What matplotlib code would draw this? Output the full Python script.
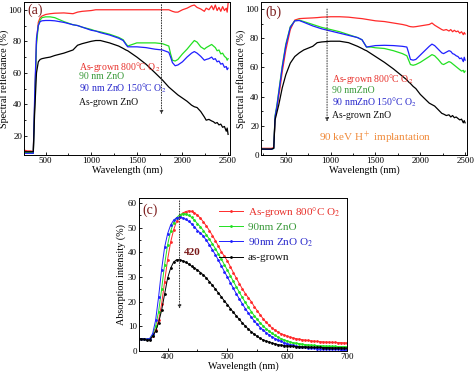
import matplotlib
matplotlib.use('Agg')
import matplotlib.pyplot as plt
from matplotlib.ticker import AutoMinorLocator, MultipleLocator

plt.rcParams['font.family'] = ['Liberation Serif', 'DejaVu Serif']
plt.rcParams['mathtext.fontset'] = 'stix'

# === data: panel (a) ===
wl_a = [265, 300, 340, 365, 380, 400, 420, 440, 460, 500, 550, 600, 700, 800, 850, 900,
        1000, 1050, 1100, 1200, 1300, 1350, 1380, 1400, 1450, 1500, 1600, 1700, 1780,
        1850, 1870, 1890, 1920, 1950, 2000, 2050, 2100, 2130, 2160, 2200, 2240, 2260,
        2290, 2320, 2340, 2360, 2380, 2400, 2420, 2440, 2460, 2480, 2490, 2500]
red_a = [11, 10.5, 10.5, 10, 40, 80, 92, 95, 96, 97, 97.5, 97.8, 98, 97.5, 98.5, 99,
         99.5, 100, 100, 100, 100, 100, 100, 100, 100, 100, 100, 100, 100,
         100, 99.5, 99, 98.5, 98.5, 100, 101, 102.5, 103, 101.5, 100.5, 99, 101,
         100, 102.5, 100, 103, 99.5, 101.5, 99, 102, 99.5, 101, 98.5, 104]
green_a = [9.5, 9.5, 9.5, 9, 40, 78, 90, 93.5, 95, 95.5, 95.5, 95, 92.5, 90.5, 90, 89,
           87.5, 86.5, 86, 84.5, 82.5, 81, 78.5, 77, 78, 79, 79, 79, 78.5,
           77, 72, 68, 67.5, 68.5, 72, 75, 78.5, 80.5, 79.5, 76.5, 75, 76,
           77, 78, 77, 76, 74, 74.5, 72, 72.5, 70.5, 69.5, 68, 69]
blue_a = [9, 9, 9, 9, 45, 82, 90, 92.5, 93, 93.2, 93.2, 93, 92, 90.5, 90, 89,
          87, 86.5, 85.5, 84, 82, 80.5, 78, 76.5, 76.5, 76.5, 76, 75, 74.5,
          73, 70, 66.5, 64.5, 65, 67, 70, 72.5, 73.5, 72.5, 70.5, 68, 68.5,
          69, 70, 68.5, 69, 67, 67.5, 65.5, 66, 63.5, 64, 62, 63]
black_a = [10, 10, 10, 10, 35, 60, 67, 68.5, 69, 69.5, 70, 71, 72.5, 74.5, 77.5, 78.5,
           80, 80.5, 80.5, 79, 77, 75.5, 74.5, 74, 72, 70, 65.5, 60, 55.5,
           51, 50, 49, 47.5, 46, 44, 42, 39.5, 38.5, 38, 35.5, 32, 30,
           30.5, 29.5, 29, 28, 28.5, 27, 27.5, 25.5, 26, 23, 25, 21]
labels_a = ['As-grown 800\u00b0C O$_2$', '90 nm ZnO', '90 nm ZnO 150\u00b0C O$_2$', 'As-grown ZnO']

# === data: panel (b) ===
wl_b = [225, 300, 340, 365, 380, 400, 420, 440, 460, 500, 550, 600, 650, 700, 800, 850,
        900, 1000, 1100, 1200, 1300, 1350, 1380, 1400, 1450, 1500, 1600, 1700, 1800,
        1850, 1870, 1890, 1920, 1950, 2000, 2050, 2100, 2130, 2160, 2200, 2240, 2260,
        2290, 2320, 2340, 2360, 2380, 2400, 2420, 2440, 2460, 2480, 2490, 2500]
red_b = [4.5, 4.5, 4.5, 5, 25, 32, 40, 48, 57, 72, 86, 92.5, 93.5, 93.7, 94, 94.2,
         94.5, 94.8, 94.8, 94.5, 93.8, 93.5, 93.2, 93, 92.5, 92, 91.5, 90.5, 89.5,
         88.8, 88.3, 88, 87.8, 88, 88.5, 89, 89.5, 90.5, 89, 87.5, 86, 85.5,
         86, 85, 86, 84.5, 85.5, 84.5, 85, 83.5, 84.5, 82.5, 84, 83]
green_b = [4, 3.8, 3.8, 4.5, 27, 34, 43, 52, 61, 76, 88, 92, 92.5, 91.5, 89.5, 88.5,
           87.5, 86, 84.5, 82.5, 80.5, 79, 76, 74, 74, 73.5, 73, 71.5, 69.5,
           68, 65, 62, 61.5, 62, 63.5, 65.5, 67.5, 68.8, 68, 65.5, 62.5, 62,
           63, 64, 63.5, 62.5, 61.5, 60.5, 59.5, 58.5, 57.5, 58, 56.5, 57.5]
blue_b = [4, 3.8, 3.8, 4.5, 26, 33, 42, 51, 60, 75, 87.5, 92, 92.2, 91, 88.5, 87.5,
          86.5, 85, 83.5, 82, 80.5, 79, 76, 74, 74.5, 75, 75.2, 75, 74.5,
          74, 70, 65.5, 65, 65.5, 68.5, 71.5, 74.5, 76, 75, 72.5, 70, 69.5,
          70.5, 71.5, 71, 69.5, 69, 68, 67.5, 66, 66.5, 64, 67, 65]
black_b = [4, 4, 4, 4.5, 24, 29, 34, 40, 46, 55, 63, 67.5, 70, 72, 74.5, 77,
           77.5, 78, 78, 77, 74.5, 73, 72, 71.5, 69.5, 67.5, 63.5, 59, 54,
           51.5, 50, 49, 47, 45.5, 41.5, 38.5, 35.5, 34.5, 33.5, 31, 28.5, 28,
           27, 27.5, 26, 27, 25.5, 26, 25, 24, 24.5, 22, 23.5, 22]
labels_b = ['As-grown 800\u00b0C O$_2$', '90 nmZnO', '90 nmZnO 150\u00b0C O$_2$', 'As-grown ZnO']

# === data: panel (c) ===
wl_c = list(range(350, 705, 5))
red_c = [5, 5, 5, 4.8, 5, 6, 8.5, 12.5, 19, 28, 37, 44, 49, 52.5, 54.5, 55.8, 56.5, 56.8,
         56.6, 56, 55, 53.8, 52.3, 50.6, 48.8, 46.8, 44.7, 42.5, 40.2, 38.4, 36.5, 34.2,
         31.8, 29.5, 27.3, 25.2, 23.3, 21.6, 20, 18, 16.3, 14.6, 13, 11.6, 10.4, 9.3, 8.4,
         7.6, 7, 6.5, 6, 5.6, 5.3, 5, 4.8, 4.6, 4.4, 4.3, 4.1, 4, 3.9, 3.8, 3.7, 3.6, 3.6,
         3.5, 3.5, 3.4, 3.4, 3.3, 3.3]
green_c = [5, 5, 5, 4.8, 5, 6.5, 10, 16, 25, 35, 43, 48.5, 52, 54, 55.2, 55.7, 55.5, 55,
           54.2, 53, 51.6, 50.3, 48.8, 47, 45.3, 43.4, 41.5, 39.3, 37.2, 35, 32.8, 30.5,
           28.2, 26, 23.8, 21.7, 19.7, 17.8, 16, 14.3, 12.8, 11.4, 10.1, 9, 8, 7.1, 6.3,
           5.6, 5, 4.5, 4.1, 3.7, 3.4, 3.2, 3, 2.8, 2.6, 2.5, 2.4, 2.3, 2.2, 2.1, 2.1, 2,
           2, 1.9, 1.9, 1.8, 1.8, 1.8, 1.7]
blue_c = [5.2, 5, 5, 4.7, 5, 7, 12.5, 22, 33, 42, 47.5, 51, 53, 54, 54.3, 54, 53.4, 52.6,
          51.6, 50.3, 48.8, 47.8, 46.5, 44.8, 43, 41, 39, 36.8, 34.5, 32.2, 30, 27.7,
          25.4, 23.2, 21.1, 19.1, 17.2, 15.4, 13.7, 12.2, 10.8, 9.5, 8.4, 7.4, 6.5, 5.7,
          5, 4.4, 3.9, 3.4, 3, 2.6, 2.3, 2, 1.8, 1.6, 1.5, 1.3, 1.2, 1.1, 1, 0.9, 0.9, 0.8,
          0.8, 0.7, 0.7, 0.7, 0.6, 0.6, 0.6]
black_c = [5, 5, 4.8, 4.5, 4.5, 6, 8, 11.5, 16.5, 23, 29.5, 33.5, 36, 37, 37, 36.6, 36,
           35.3, 34.4, 33.6, 32.8, 31.8, 30.8, 29.5, 28.1, 26.6, 25.1, 23.5, 21.9, 20.3,
           18.8, 17.2, 15.7, 14.2, 12.8, 11.4, 10.1, 8.9, 7.8, 6.8, 5.9, 5.1, 4.5, 4, 3.6,
           3.2, 2.9, 2.6, 2.4, 2.2, 2.1, 2, 1.9, 1.8, 1.8, 1.7, 1.7, 1.6, 1.6, 1.5, 1.5,
           1.5, 1.4, 1.4, 1.4, 1.3, 1.3, 1.3, 1.3, 1.2, 1.2]
labels_c = ['As-grown 800\u00b0C O$_2$', '90nm ZnO', '90nm ZnO O$_2$', 'as-grown']

line_cols = ['#ff2a2a', '#22e022', '#1f1fff', '#000000']
text_cols = ['#e8302a', '#3a9a3a', '#2a2acc', '#111111']
panel_col = '#7a1a1a'


def style_axes(ax):
    ax.tick_params(direction='in', which='both', labelsize=6.5, length=2.5, width=0.6,
                   pad=1.5)
    ax.tick_params(which='minor', length=1.5)
    ax.xaxis.set_minor_locator(AutoMinorLocator(2))
    ax.yaxis.set_minor_locator(AutoMinorLocator(2))
    for s in ax.spines.values():
        s.set_linewidth(0.7)
    ax.set_xlabel('Wavelength (nm)', fontsize=7.3, labelpad=0)


fig = plt.figure(figsize=(4.74, 3.75), dpi=100)

# --- (a) ---
ax_a = fig.add_axes([0.051, 0.587, 0.435, 0.408])
for y, c in zip([red_a, green_a, blue_a, black_a], line_cols):
    ax_a.plot(wl_a, y, color=c, lw=0.9)
ax_a.set_xlim(265, 2525)
ax_a.set_ylim(8, 105)
ax_a.yaxis.set_major_locator(MultipleLocator(20))
ax_a.xaxis.set_major_locator(MultipleLocator(500))
ax_a.set_ylabel('Spectral reflectance (%)', fontsize=7.3, labelpad=0)
style_axes(ax_a)
ax_a.annotate('', xy=(1770, 32), xytext=(1770, 105),
              arrowprops=dict(arrowstyle='-|>', ls=':', color='#333333', lw=0.7,
                              mutation_scale=5))
for lab, yv, c in zip(labels_a, [64, 57.5, 50, 41.5], text_cols):
    ax_a.text(870, yv, lab, color=c, fontsize=7, va='center')
ax_a.text(300, 100, '(a)', color=panel_col, fontsize=10, va='center')

# --- (b) ---
ax_b = fig.add_axes([0.551, 0.587, 0.435, 0.408])
for y, c in zip([red_b, green_b, blue_b, black_b], line_cols):
    ax_b.plot(wl_b, y, color=c, lw=0.9)
ax_b.set_xlim(225, 2525)
ax_b.set_ylim(0, 105)
ax_b.yaxis.set_major_locator(MultipleLocator(20))
ax_b.xaxis.set_major_locator(MultipleLocator(500))
ax_b.set_ylabel('Spectral reflectance (%)', fontsize=7.3, labelpad=0)
style_axes(ax_b)
ax_b.annotate('', xy=(960, 21), xytext=(960, 102),
              arrowprops=dict(arrowstyle='-|>', ls=':', color='#333333', lw=0.7,
                              mutation_scale=5))
for lab, yv, c in zip(labels_b, [52, 44.5, 36, 27], text_cols):
    ax_b.text(1010, yv, lab, color=c, fontsize=7, va='center')
ax_b.text(870, 12, '90 keV H$^+$ implantation', color='#f08a3a', fontsize=8, va='center')
ax_b.text(270, 98, '(b)', color=panel_col, fontsize=10, va='center')

# --- (c) ---
ax_c = fig.add_axes([0.293, 0.064, 0.439, 0.408])
for y, c, lab in zip([red_c, green_c, blue_c, black_c], line_cols, labels_c):
    ax_c.plot(wl_c, y, color=c, lw=0.7, marker='o', ms=1.0, label=lab)
ax_c.set_xlim(352, 700)
ax_c.set_ylim(0, 62)
ax_c.yaxis.set_major_locator(MultipleLocator(10))
ax_c.xaxis.set_major_locator(MultipleLocator(100))
ax_c.set_ylabel('Absorption intensity (%)', fontsize=7.3, labelpad=1)
style_axes(ax_c)
ax_c.annotate('', xy=(420, 16), xytext=(420, 62),
              arrowprops=dict(arrowstyle='-|>', ls=':', color='#333333', lw=0.7,
                              mutation_scale=5))
ax_c.text(441, 40, '420', color=panel_col, fontsize=8, fontweight='bold',
          ha='center', va='center')
ax_c.text(358, 57, '(c)', color=panel_col, fontsize=10, va='center')
leg = ax_c.legend(loc='upper right', frameon=False, fontsize=8, handlelength=2.2,
                  handletextpad=0.4, labelspacing=0.35, borderaxespad=0.2)
for t, c in zip(leg.get_texts(), text_cols):
    t.set_color(c)

fig.savefig('out.png', dpi=100)
